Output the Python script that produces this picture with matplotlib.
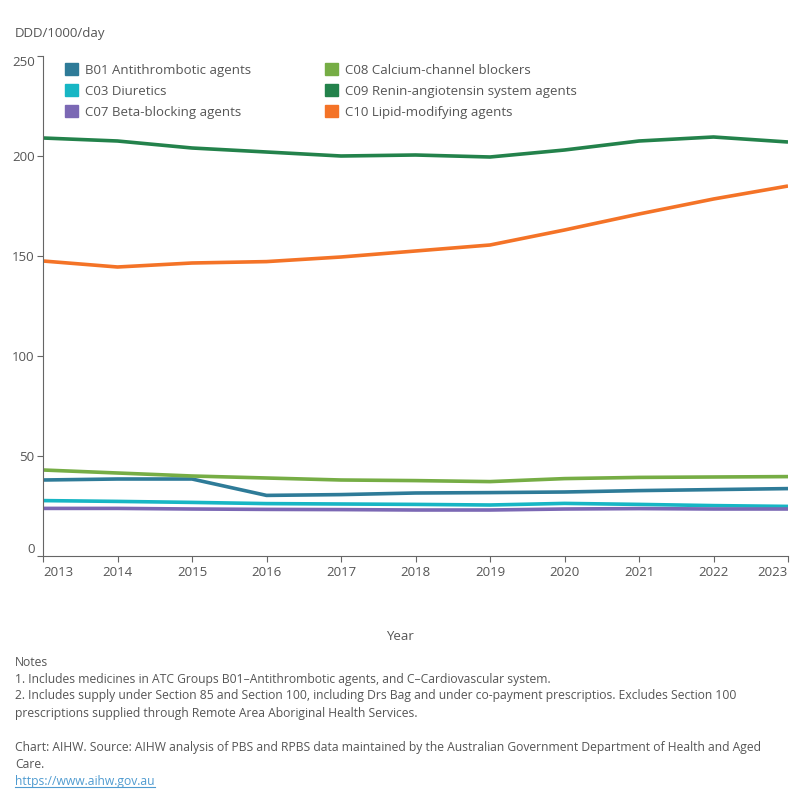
import matplotlib.pyplot as plt
from matplotlib.patches import Patch
from matplotlib.lines import Line2D

plt.rcParams["font.family"] = ["Open Sans", "DejaVu Sans"]

years = [2013, 2014, 2015, 2016, 2017, 2018, 2019, 2020, 2021, 2022, 2023]
b01 = [38.0, 38.5, 38.5, 30.3, 30.7, 31.5, 31.7, 32.0, 32.7, 33.2, 33.7]
c03 = [27.7, 27.3, 26.8, 26.2, 26.0, 25.8, 25.5, 26.3, 25.8, 25.2, 24.8]
c07 = [23.8, 23.8, 23.5, 23.3, 23.2, 23.0, 23.0, 23.5, 23.7, 23.5, 23.5]
c08 = [43.0, 41.5, 40.0, 39.0, 38.0, 37.7, 37.2, 38.7, 39.3, 39.5, 39.7]
c09 = [209.0, 207.5, 204.0, 202.0, 200.0, 200.5, 199.5, 203.0, 207.5, 209.5, 207.0]
c10 = [147.5, 144.5, 146.5, 147.2, 149.5, 152.5, 155.5, 163.0, 171.0, 178.5, 185.0]

labels = ["B01 Antithrombotic agents", "C03 Diuretics", "C07 Beta-blocking agents",
          "C08 Calcium-channel blockers", "C09 Renin-angiotensin system agents",
          "C10 Lipid-modifying agents"]
colors = ["#2e7b98", "#17b6c4", "#7b68b4", "#76ad45", "#23824b", "#f47327"]
series = [b01, c03, c07, c08, c09, c10]

grey = "#555555"

fig = plt.figure(figsize=(8, 8), dpi=100)
ax = fig.add_axes([43 / 800, 1 - 556 / 800, 745 / 800, 500 / 800])

for vals, col in zip(series, colors):
    ax.plot(years, vals, color=col, lw=2.6, solid_capstyle="butt")

ax.set_xlim(2013, 2023)
ax.set_ylim(0, 250)
ax.set_xticks(years)
ax.set_yticks([0, 50, 100, 150, 200, 250])
for s in ["top", "right"]:
    ax.spines[s].set_visible(False)
for s in ["left", "bottom"]:
    ax.spines[s].set_color("#666666")
ax.tick_params(colors="#666666", labelcolor=grey, labelsize=9.5, length=4)
ax.tick_params(axis="y", pad=2)

# Tableau-style: end labels pushed inside the axis range
xl = ax.get_xticklabels()
xl[0].set_ha("left")
xl[-1].set_ha("right")
yl = ax.get_yticklabels()
yl[0].set_va("bottom")
yl[-1].set_va("top")

fig.text(15 / 800, 1 - 33 / 800, "DDD/1000/day", fontsize=9.5, color=grey, va="center")
fig.text(400 / 800, 1 - 636 / 800, "Year", fontsize=9.5, color=grey, ha="center", va="center")

h1 = [Patch(color=c) for c in colors[:3]]
h2 = [Patch(color=c) for c in colors[3:]]
kw = dict(frameon=False, fontsize=9.5, labelcolor=grey, handlelength=1.0, handleheight=1.0,
          handletextpad=0.5, labelspacing=0.56, borderaxespad=0, borderpad=0, loc="upper left")
fig.legend(h1, labels[:3], bbox_to_anchor=(65 / 800, 1 - 63.5 / 800), **kw)
fig.legend(h2, labels[3:], bbox_to_anchor=(325 / 800, 1 - 63.5 / 800), **kw)

notes = [
    "Notes",
    "1. Includes medicines in ATC Groups B01\u2013Antithrombotic agents, and C\u2013Cardiovascular system.",
    "2. Includes supply under Section 85 and Section 100, including Drs Bag and under co-payment prescriptios. Excludes Section 100",
    "prescriptions supplied through Remote Area Aboriginal Health Services.",
    "",
    "Chart: AIHW. Source: AIHW analysis of PBS and RPBS data maintained by the Australian Government Department of Health and Aged",
    "Care.",
]
y0 = 662
for i, line in enumerate(notes):
    fig.text(15 / 800, 1 - (y0 + i * 17) / 800, line, fontsize=8.7, color=grey, va="center")

link_y = 1 - (y0 + 7 * 17) / 800
t = fig.text(15 / 800, link_y, "https://www.aihw.gov.au", fontsize=8.7, color="#4f9bd0", va="center")
fig.canvas.draw()
bb = t.get_window_extent().transformed(fig.transFigure.inverted())
fig.add_artist(Line2D([bb.x0, bb.x1], [bb.y0 + 0.001, bb.y0 + 0.001], color="#4f9bd0", lw=0.8,
                      transform=fig.transFigure))

fig.savefig("out.png", dpi=100)
